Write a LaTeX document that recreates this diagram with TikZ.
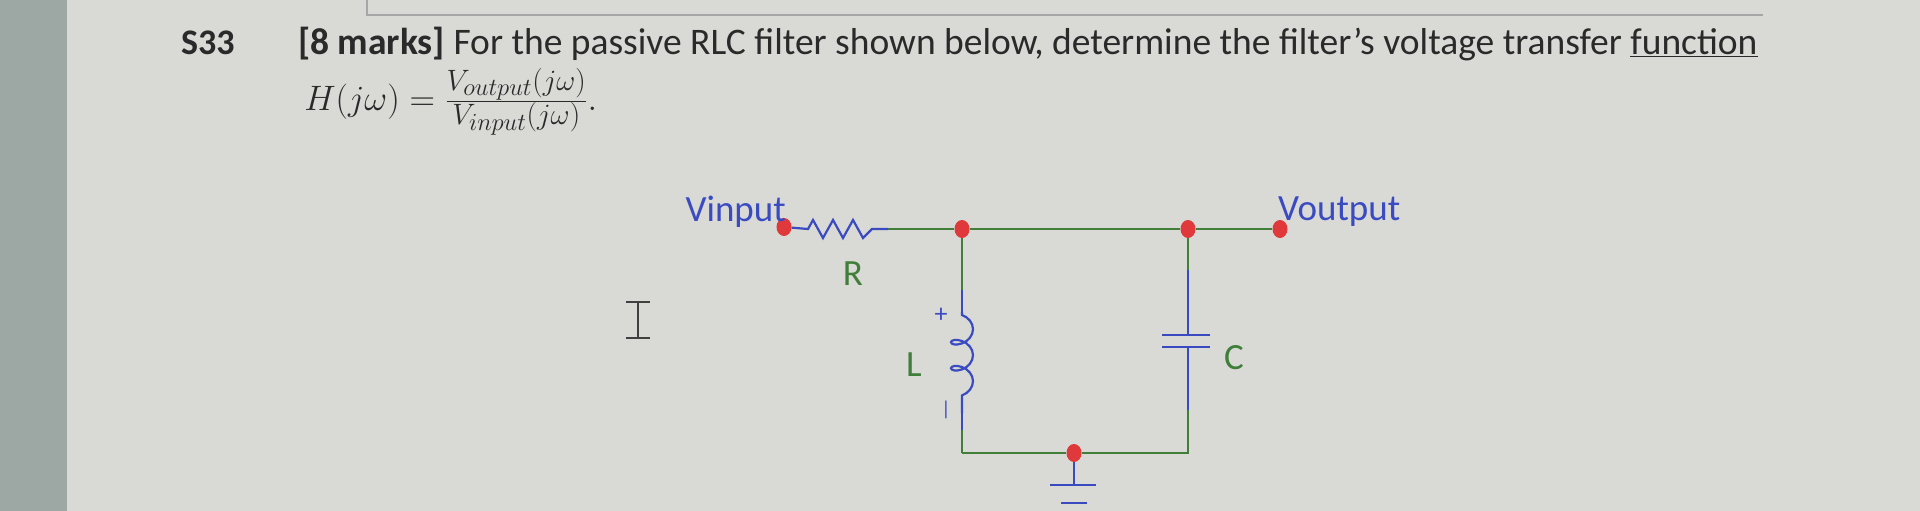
\documentclass[tikz,border=0pt]{standalone}
\usepackage{fontspec}
\setmainfont{Carlito}
\usetikzlibrary{decorations.pathmorphing}
\definecolor{bg}{HTML}{D9D9D6}
\definecolor{strip}{HTML}{9DA8A5}
\definecolor{wire}{HTML}{3F7F3A}
\definecolor{comp}{HTML}{3A4BC2}
\definecolor{dotc}{HTML}{E0393B}
\definecolor{txt}{HTML}{2A2A2A}
\tikzset{
  wr/.style={draw=wire, line width=2.2pt},
  cp/.style={draw=comp, line width=2.2pt},
  pin/.style={circle, fill=dotc, inner sep=0pt, minimum width=15pt, yscale=1.2},
  lbl/.style={font=\fontsize{37}{40}\selectfont},
  blbl/.style={lbl, text=comp},
  glbl/.style={lbl, text=wire},
}
\begin{document}
\begin{tikzpicture}[x=1pt,y=-1pt]
\fill[bg] (0,0) rectangle (1920,511);
\useasboundingbox (0,0) rectangle (1920,511);
\fill[strip] (0,0) rectangle (67,511);
\draw[gray!70, line width=1.2pt] (367,0) -- (367,15) -- (1763,15);
% header text
\node[anchor=base west, inner sep=0, text=txt, font=\fontsize{36}{40}\selectfont\bfseries] (s33) at (181,55) {S33};
\node[anchor=base west, inner sep=0, text=txt, font=\fontsize{37.5}{40}\selectfont] (q) at (298,55) {\textbf{[8 marks]} For the passive RLC filter shown below, determine the filter’s voltage transfer \underline{function}};
\node[anchor=west, inner sep=0, text=txt, font=\Huge, scale=1.42] (h) at (304,102)
  {$H(j\omega)=\frac{V_{output}(j\omega)}{V_{input}(j\omega)}.$};
% I-beam cursor
\draw[black!75, line width=2.4pt] (638,302) -- (638,338) (626,302) -- (650,302) (626,338) -- (650,338);
% nodes
\node[pin] (vin) at (784,227) {};
\node[pin] (n1) at (962,229) {};
\node[pin] (n2) at (1188,229) {};
\node[pin] (vout) at (1280,229) {};
\node[pin] (gnd) at (1074,453) {};
\coordinate (bl) at (962,453);
\coordinate (br) at (1188,453);
\coordinate (r1) at (808,229);
\coordinate (r2) at (872,229);
\coordinate (rw) at (888,229);
\coordinate (l1) at (962,312);
\coordinate (l2) at (962,413);
\coordinate (c1) at (1188,270);
\coordinate (c2) at (1188,335);
\coordinate (c3) at (1188,347);
\coordinate (c4) at (1188,410);
\coordinate (g1) at (1074,485);
% wires
\draw[wr] (rw) -- (n1) -- (n2) -- (vout);
\draw[wr] (n1) -- (962,290);
\draw[wr] (n2) -- (c1);
\draw[wr] (bl) -- (gnd) -- (br) -- (c4);
\draw[wr] (bl) -- (962,430);
% resistor
\draw[cp] (vin) -- (r1) -- ++(5,-9) -- ++(10,18) -- ++(10,-18) -- ++(10,18) -- ++(10,-18) -- ++(10,18) -- (r2) -- (rw);
% inductor
\draw[cp] (962,290) -- (l1);
\draw[cp, decorate, decoration={coil, aspect=0.7, segment length=26pt, amplitude=11pt, pre length=3pt, post length=3pt}] (l1) -- (l2);
\draw[cp] (l2) -- (962,430);
% capacitor
\draw[cp] (c1) -- (c2) (c3) -- (c4);
\draw[cp] (1162,335) -- (1210,335) (1162,347) -- (1210,347);
% ground
\draw[cp] (gnd) -- (g1);
\draw[cp] (1050,485) -- (1096,485) (1061,503) -- (1087,503);
% labels
\node[blbl, anchor=east, inner sep=0] (lvin) at (786,212) {Vinput};
\node[blbl, anchor=west, inner sep=0] (lvout) at (1278,212) {Voutput};
\node[glbl] (lr) at (853,274) {R};
\node[glbl] (ll) at (914,365) {L};
\node[glbl] (lc) at (1234,358) {C};
\node[text=comp, font=\fontsize{26}{28}\selectfont] (lp) at (941,315) {+};
\node[text=comp, font=\fontsize{20}{22}\selectfont] (lm) at (946,410) {|};
\end{tikzpicture}
\end{document}
